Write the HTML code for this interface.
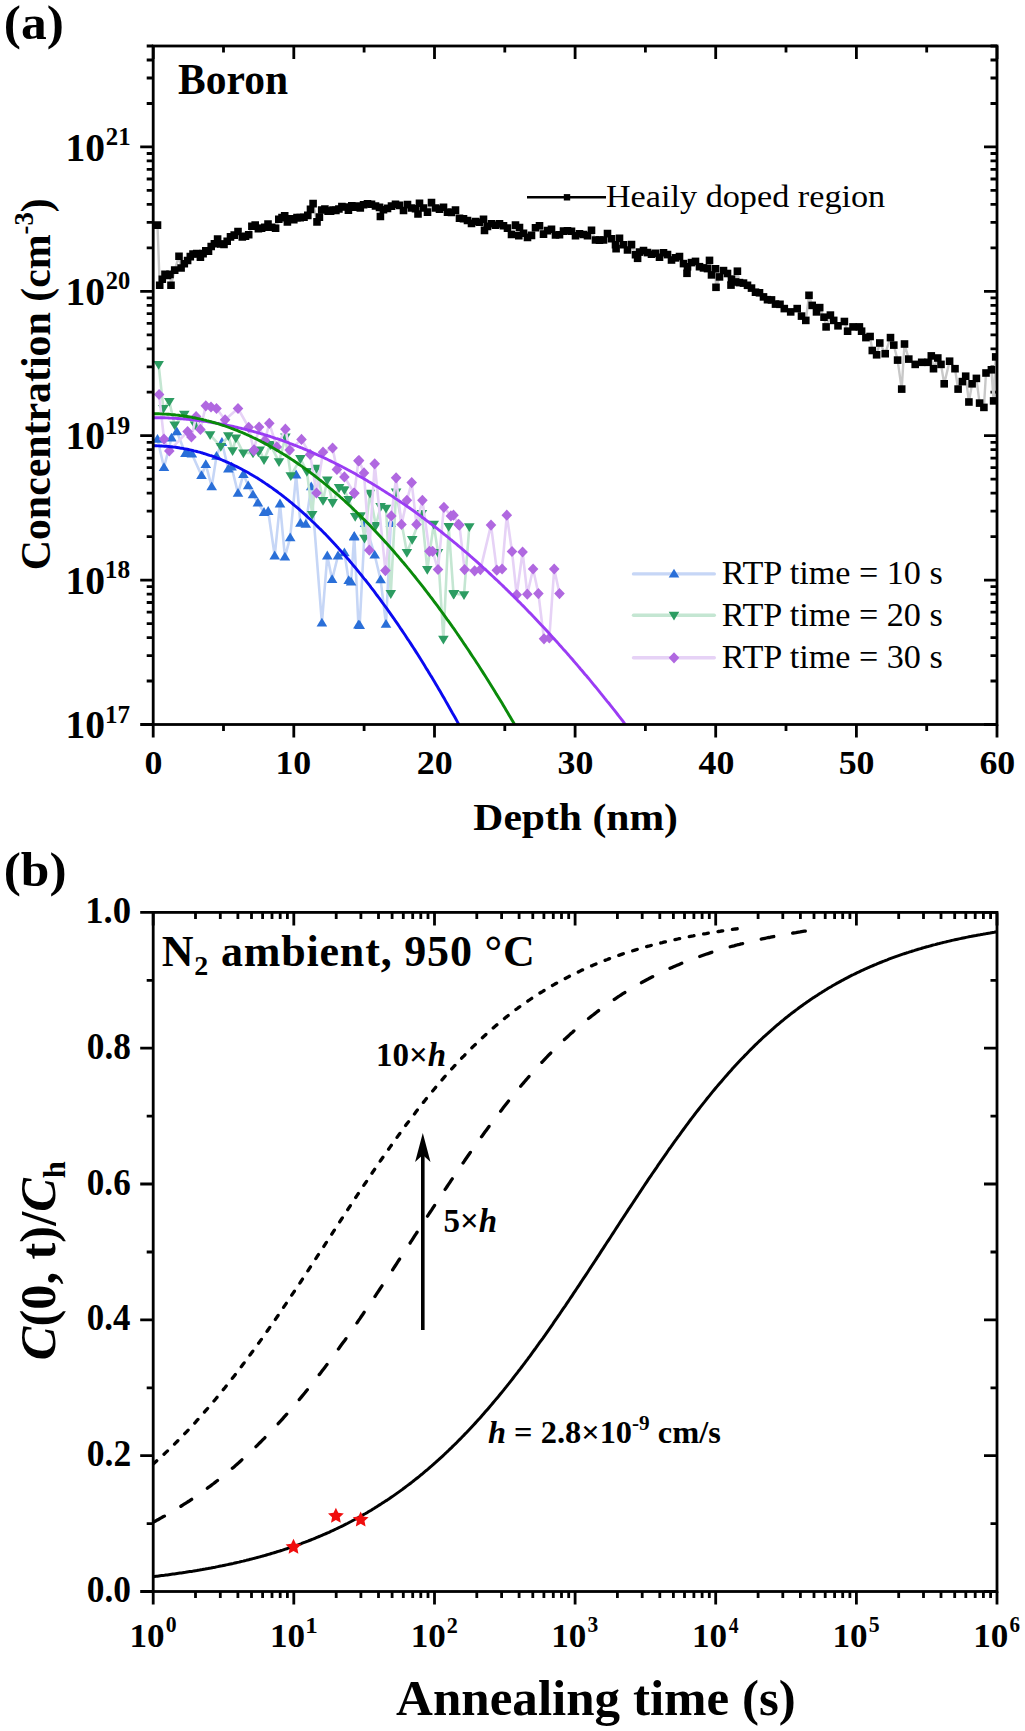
<!DOCTYPE html>
<html><head><meta charset="utf-8"><title>Figure</title>
<style>html,body{margin:0;padding:0;background:#fff;}svg{display:block;font-family:"Liberation Serif",serif;}</style>
</head><body><svg width="1025" height="1731" viewBox="0 0 1025 1731"><path d="M153.2 724.5v13M153.2 46.0v13M293.8 724.5v13M293.8 46.0v13M434.5 724.5v13M434.5 46.0v13M575.1 724.5v13M575.1 46.0v13M715.7 724.5v13M715.7 46.0v13M856.4 724.5v13M856.4 46.0v13M997 724.5v13M997 46.0v13M223.5 724.5v6.5M223.5 46.0v6.5M364.1 724.5v6.5M364.1 46.0v6.5M504.8 724.5v6.5M504.8 46.0v6.5M645.4 724.5v6.5M645.4 46.0v6.5M786 724.5v6.5M786 46.0v6.5M926.7 724.5v6.5M926.7 46.0v6.5M153.2 724.5h-13M997.0 724.5h-13M153.2 681h-6.5M997.0 681h-6.5M153.2 655.6h-6.5M997.0 655.6h-6.5M153.2 637.6h-6.5M997.0 637.6h-6.5M153.2 623.6h-6.5M997.0 623.6h-6.5M153.2 612.1h-6.5M997.0 612.1h-6.5M153.2 602.5h-6.5M997.0 602.5h-6.5M153.2 594.1h-6.5M997.0 594.1h-6.5M153.2 586.7h-6.5M997.0 586.7h-6.5M153.2 580.1h-13M997.0 580.1h-13M153.2 536.6h-6.5M997.0 536.6h-6.5M153.2 511.2h-6.5M997.0 511.2h-6.5M153.2 493.2h-6.5M997.0 493.2h-6.5M153.2 479.2h-6.5M997.0 479.2h-6.5M153.2 467.7h-6.5M997.0 467.7h-6.5M153.2 458.1h-6.5M997.0 458.1h-6.5M153.2 449.7h-6.5M997.0 449.7h-6.5M153.2 442.3h-6.5M997.0 442.3h-6.5M153.2 435.7h-13M997.0 435.7h-13M153.2 392.2h-6.5M997.0 392.2h-6.5M153.2 366.8h-6.5M997.0 366.8h-6.5M153.2 348.8h-6.5M997.0 348.8h-6.5M153.2 334.8h-6.5M997.0 334.8h-6.5M153.2 323.4h-6.5M997.0 323.4h-6.5M153.2 313.7h-6.5M997.0 313.7h-6.5M153.2 305.3h-6.5M997.0 305.3h-6.5M153.2 297.9h-6.5M997.0 297.9h-6.5M153.2 291.3h-13M997.0 291.3h-13M153.2 247.9h-6.5M997.0 247.9h-6.5M153.2 222.4h-6.5M997.0 222.4h-6.5M153.2 204.4h-6.5M997.0 204.4h-6.5M153.2 190.4h-6.5M997.0 190.4h-6.5M153.2 179h-6.5M997.0 179h-6.5M153.2 169.3h-6.5M997.0 169.3h-6.5M153.2 160.9h-6.5M997.0 160.9h-6.5M153.2 153.5h-6.5M997.0 153.5h-6.5M153.2 146.9h-13M997.0 146.9h-13M153.2 103.5h-6.5M997.0 103.5h-6.5M153.2 78h-6.5M997.0 78h-6.5M153.2 60h-6.5M997.0 60h-6.5M153.2 46h-6.5M997.0 46h-6.5" stroke="#000" stroke-width="2.8" fill="none"/>
<defs><clipPath id="ca"><rect x="153.2" y="46.0" width="843.8" height="678.5"/></clipPath><clipPath id="cb"><rect x="153.2" y="912.4" width="843.8" height="679.1"/></clipPath><path id="sq" d="M-3.8 -3.8h7.6v7.6h-7.6z"/><path id="tu" d="M0 -5.2L5.3 3.6H-5.3z"/><path id="td" d="M0 5.2L5.3 -3.6H-5.3z"/><path id="dm" d="M0 -5.6L5.3 0L0 5.6L-5.3 0z"/><path id="st" d="M0.00,-8.30 L2.35,-3.24 L7.89,-2.56 L3.80,1.24 L4.88,6.71 L0.00,4.00 L-4.88,6.71 L-3.80,1.24 L-7.89,-2.56 L-2.35,-3.24z"/></defs>
<g clip-path="url(#ca)">
<path d="M157.5 225.1 L159.7 285.2 L162.3 279.2 L165 274.4 L167.5 275.5 L170 274.4 L171 285.2 L174.7 270.1 L179 256.2 L181.1 268 L184.3 263.8 L187.6 260.5 L190.3 256.6 L193 254 L196.7 253.6 L200.4 257.3 L203.1 253.6 L205.8 250.8 L208.5 251.1 L211.2 246.5 L214.4 243.7 L217.6 239 L220.8 244 L224 244.4 L227.2 241.2 L230.5 236.9 L234.2 235.1 L238 231.5 L242.3 236.9 L245.5 236.2 L248.7 234.7 L251.9 226.2 L255.2 225.1 L258.4 228.6 L261.6 228.3 L264.8 227.3 L268 224 L271.8 227.2 L275.6 228.3 L278.8 219.2 L282 217.6 L284.7 215.9 L287.4 221.9 L290.6 218.8 L293.8 219.7 L297 217.6 L300.2 217.6 L304 217.2 L307.8 215.4 L310.5 209.4 L313.1 203.6 L317 221.9 L319.4 217.1 L321.7 210 L324.9 209.1 L328.1 211.1 L330.6 211.2 L333 210 L335.9 210.4 L338.9 209 L341.9 206.5 L345 207 L348.4 210.2 L351.8 205.8 L354.4 207.1 L357 206 L360.3 208 L363.6 204.7 L367.5 203.9 L371.5 204.2 L375.5 206 L379.5 207.4 L380.4 216.5 L383.5 209.8 L387.5 208.4 L391.5 206.1 L395.5 204.3 L399.5 205.4 L403.5 210.5 L407.5 204.6 L411.5 208 L415.5 208.7 L418 214 L419.5 203.2 L423.5 208 L427.5 212.1 L431.5 202.6 L435.5 208 L439.5 209.1 L443.5 207.3 L447.5 212.2 L451.5 212.4 L455.5 210.1 L459.5 218.2 L463.5 218.7 L467.5 220.5 L471.5 223.4 L475.5 221.5 L479.5 222.2 L483.5 219.3 L484.5 230.4 L487.5 226.4 L491.5 223.8 L495.5 225.3 L499.5 223.9 L503.5 225.8 L507.5 228.1 L511.5 234.5 L515.5 225.1 L518.8 235.8 L519.5 227.5 L523.5 233.2 L527.5 237.4 L531.5 235.4 L535.5 227.8 L539.5 225.7 L543.5 234.1 L547.5 230.6 L551.5 229.2 L555.5 235 L559.5 234.7 L563.5 231.1 L567.5 230.7 L571.5 231.2 L575.5 235.7 L579.5 233.8 L583.5 234.5 L587.5 235.6 L591.5 230.3 L595.5 240 L599.5 240.1 L603.5 240 L607.5 233.6 L611.5 238.8 L615.5 244.7 L616.1 248.6 L619.5 238.3 L623.5 244.8 L627.5 250 L631.5 244.6 L635.5 254.7 L637.6 258.3 L639.5 252.1 L643.5 250.6 L647.5 252.6 L651.5 254.2 L655.5 253.2 L659.5 257.2 L663.5 252.8 L667.5 254.6 L671.5 260 L675.5 257.9 L679.5 256.5 L683.5 263.6 L687 273.3 L687.5 266.8 L691.5 262.6 L695.5 261.4 L699.5 266.7 L703.5 267.9 L707.5 268.6 L709.5 260.4 L711.5 274.9 L715.5 268.8 L716 287.3 L719.5 276.9 L723.5 270.6 L727.5 273.5 L731 285.1 L731.5 279.1 L735.5 282 L737.4 271.2 L739.5 282.6 L743.5 283.1 L747.5 285.3 L751.5 288.1 L755.5 292.2 L759.5 292.8 L763.5 296.9 L767.5 299.7 L771.5 299.9 L775.5 304.1 L780 304.3 L784.3 308.6 L790.7 311.9 L797.2 308.6 L801.5 316.1 L805.8 320.4 L809 295.3 L812.2 305.4 L816.5 311.9 L819.7 307.6 L824 317.2 L826.1 326.9 L830.4 315.1 L833.7 320.4 L838 325.8 L844.4 321.5 L847.6 331.2 L853 326.9 L859.4 326.9 L861.6 331.2 L865.9 337.6 L870.1 336.5 L872.3 350.5 L876.6 354.8 L879.8 343 L885.2 353.7 L890.5 337.6 L893.8 345.1 L897.6 360.1 L901.7 389.1 L904.5 344 L908.8 359.1 L915.2 364.4 L921.7 362.3 L928.1 362.3 L931.3 355.9 L933.5 368.7 L937.8 358 L941 364.4 L944.2 383.8 L949.6 361.2 L955 368.7 L958.1 389.1 L962.4 381.6 L965.7 376.2 L968.9 402 L972.1 383.8 L976.4 378.4 L979.6 403.1 L983.9 407.4 L986 373 L991.4 369.8 L993.6 400.9 L995.7 356.9" stroke="#c8c8c8" stroke-width="2.4" fill="none"/>
<g fill="#000"><use href="#sq" x="157.5" y="225.1"/><use href="#sq" x="159.7" y="285.2"/><use href="#sq" x="162.3" y="279.2"/><use href="#sq" x="165" y="274.4"/><use href="#sq" x="167.5" y="275.5"/><use href="#sq" x="170" y="274.4"/><use href="#sq" x="171" y="285.2"/><use href="#sq" x="174.7" y="270.1"/><use href="#sq" x="179" y="256.2"/><use href="#sq" x="181.1" y="268"/><use href="#sq" x="184.3" y="263.8"/><use href="#sq" x="187.6" y="260.5"/><use href="#sq" x="190.3" y="256.6"/><use href="#sq" x="193" y="254"/><use href="#sq" x="196.7" y="253.6"/><use href="#sq" x="200.4" y="257.3"/><use href="#sq" x="203.1" y="253.6"/><use href="#sq" x="205.8" y="250.8"/><use href="#sq" x="208.5" y="251.1"/><use href="#sq" x="211.2" y="246.5"/><use href="#sq" x="214.4" y="243.7"/><use href="#sq" x="217.6" y="239"/><use href="#sq" x="220.8" y="244"/><use href="#sq" x="224" y="244.4"/><use href="#sq" x="227.2" y="241.2"/><use href="#sq" x="230.5" y="236.9"/><use href="#sq" x="234.2" y="235.1"/><use href="#sq" x="238" y="231.5"/><use href="#sq" x="242.3" y="236.9"/><use href="#sq" x="245.5" y="236.2"/><use href="#sq" x="248.7" y="234.7"/><use href="#sq" x="251.9" y="226.2"/><use href="#sq" x="255.2" y="225.1"/><use href="#sq" x="258.4" y="228.6"/><use href="#sq" x="261.6" y="228.3"/><use href="#sq" x="264.8" y="227.3"/><use href="#sq" x="268" y="224"/><use href="#sq" x="271.8" y="227.2"/><use href="#sq" x="275.6" y="228.3"/><use href="#sq" x="278.8" y="219.2"/><use href="#sq" x="282" y="217.6"/><use href="#sq" x="284.7" y="215.9"/><use href="#sq" x="287.4" y="221.9"/><use href="#sq" x="290.6" y="218.8"/><use href="#sq" x="293.8" y="219.7"/><use href="#sq" x="297" y="217.6"/><use href="#sq" x="300.2" y="217.6"/><use href="#sq" x="304" y="217.2"/><use href="#sq" x="307.8" y="215.4"/><use href="#sq" x="310.5" y="209.4"/><use href="#sq" x="313.1" y="203.6"/><use href="#sq" x="317" y="221.9"/><use href="#sq" x="319.4" y="217.1"/><use href="#sq" x="321.7" y="210"/><use href="#sq" x="324.9" y="209.1"/><use href="#sq" x="328.1" y="211.1"/><use href="#sq" x="330.6" y="211.2"/><use href="#sq" x="333" y="210"/><use href="#sq" x="335.9" y="210.4"/><use href="#sq" x="338.9" y="209"/><use href="#sq" x="341.9" y="206.5"/><use href="#sq" x="345" y="207"/><use href="#sq" x="348.4" y="210.2"/><use href="#sq" x="351.8" y="205.8"/><use href="#sq" x="354.4" y="207.1"/><use href="#sq" x="357" y="206"/><use href="#sq" x="360.3" y="208"/><use href="#sq" x="363.6" y="204.7"/><use href="#sq" x="367.5" y="203.9"/><use href="#sq" x="371.5" y="204.2"/><use href="#sq" x="375.5" y="206"/><use href="#sq" x="379.5" y="207.4"/><use href="#sq" x="380.4" y="216.5"/><use href="#sq" x="383.5" y="209.8"/><use href="#sq" x="387.5" y="208.4"/><use href="#sq" x="391.5" y="206.1"/><use href="#sq" x="395.5" y="204.3"/><use href="#sq" x="399.5" y="205.4"/><use href="#sq" x="403.5" y="210.5"/><use href="#sq" x="407.5" y="204.6"/><use href="#sq" x="411.5" y="208"/><use href="#sq" x="415.5" y="208.7"/><use href="#sq" x="418" y="214"/><use href="#sq" x="419.5" y="203.2"/><use href="#sq" x="423.5" y="208"/><use href="#sq" x="427.5" y="212.1"/><use href="#sq" x="431.5" y="202.6"/><use href="#sq" x="435.5" y="208"/><use href="#sq" x="439.5" y="209.1"/><use href="#sq" x="443.5" y="207.3"/><use href="#sq" x="447.5" y="212.2"/><use href="#sq" x="451.5" y="212.4"/><use href="#sq" x="455.5" y="210.1"/><use href="#sq" x="459.5" y="218.2"/><use href="#sq" x="463.5" y="218.7"/><use href="#sq" x="467.5" y="220.5"/><use href="#sq" x="471.5" y="223.4"/><use href="#sq" x="475.5" y="221.5"/><use href="#sq" x="479.5" y="222.2"/><use href="#sq" x="483.5" y="219.3"/><use href="#sq" x="484.5" y="230.4"/><use href="#sq" x="487.5" y="226.4"/><use href="#sq" x="491.5" y="223.8"/><use href="#sq" x="495.5" y="225.3"/><use href="#sq" x="499.5" y="223.9"/><use href="#sq" x="503.5" y="225.8"/><use href="#sq" x="507.5" y="228.1"/><use href="#sq" x="511.5" y="234.5"/><use href="#sq" x="515.5" y="225.1"/><use href="#sq" x="518.8" y="235.8"/><use href="#sq" x="519.5" y="227.5"/><use href="#sq" x="523.5" y="233.2"/><use href="#sq" x="527.5" y="237.4"/><use href="#sq" x="531.5" y="235.4"/><use href="#sq" x="535.5" y="227.8"/><use href="#sq" x="539.5" y="225.7"/><use href="#sq" x="543.5" y="234.1"/><use href="#sq" x="547.5" y="230.6"/><use href="#sq" x="551.5" y="229.2"/><use href="#sq" x="555.5" y="235"/><use href="#sq" x="559.5" y="234.7"/><use href="#sq" x="563.5" y="231.1"/><use href="#sq" x="567.5" y="230.7"/><use href="#sq" x="571.5" y="231.2"/><use href="#sq" x="575.5" y="235.7"/><use href="#sq" x="579.5" y="233.8"/><use href="#sq" x="583.5" y="234.5"/><use href="#sq" x="587.5" y="235.6"/><use href="#sq" x="591.5" y="230.3"/><use href="#sq" x="595.5" y="240"/><use href="#sq" x="599.5" y="240.1"/><use href="#sq" x="603.5" y="240"/><use href="#sq" x="607.5" y="233.6"/><use href="#sq" x="611.5" y="238.8"/><use href="#sq" x="615.5" y="244.7"/><use href="#sq" x="616.1" y="248.6"/><use href="#sq" x="619.5" y="238.3"/><use href="#sq" x="623.5" y="244.8"/><use href="#sq" x="627.5" y="250"/><use href="#sq" x="631.5" y="244.6"/><use href="#sq" x="635.5" y="254.7"/><use href="#sq" x="637.6" y="258.3"/><use href="#sq" x="639.5" y="252.1"/><use href="#sq" x="643.5" y="250.6"/><use href="#sq" x="647.5" y="252.6"/><use href="#sq" x="651.5" y="254.2"/><use href="#sq" x="655.5" y="253.2"/><use href="#sq" x="659.5" y="257.2"/><use href="#sq" x="663.5" y="252.8"/><use href="#sq" x="667.5" y="254.6"/><use href="#sq" x="671.5" y="260"/><use href="#sq" x="675.5" y="257.9"/><use href="#sq" x="679.5" y="256.5"/><use href="#sq" x="683.5" y="263.6"/><use href="#sq" x="687" y="273.3"/><use href="#sq" x="687.5" y="266.8"/><use href="#sq" x="691.5" y="262.6"/><use href="#sq" x="695.5" y="261.4"/><use href="#sq" x="699.5" y="266.7"/><use href="#sq" x="703.5" y="267.9"/><use href="#sq" x="707.5" y="268.6"/><use href="#sq" x="709.5" y="260.4"/><use href="#sq" x="711.5" y="274.9"/><use href="#sq" x="715.5" y="268.8"/><use href="#sq" x="716" y="287.3"/><use href="#sq" x="719.5" y="276.9"/><use href="#sq" x="723.5" y="270.6"/><use href="#sq" x="727.5" y="273.5"/><use href="#sq" x="731" y="285.1"/><use href="#sq" x="731.5" y="279.1"/><use href="#sq" x="735.5" y="282"/><use href="#sq" x="737.4" y="271.2"/><use href="#sq" x="739.5" y="282.6"/><use href="#sq" x="743.5" y="283.1"/><use href="#sq" x="747.5" y="285.3"/><use href="#sq" x="751.5" y="288.1"/><use href="#sq" x="755.5" y="292.2"/><use href="#sq" x="759.5" y="292.8"/><use href="#sq" x="763.5" y="296.9"/><use href="#sq" x="767.5" y="299.7"/><use href="#sq" x="771.5" y="299.9"/><use href="#sq" x="775.5" y="304.1"/><use href="#sq" x="780" y="304.3"/><use href="#sq" x="784.3" y="308.6"/><use href="#sq" x="790.7" y="311.9"/><use href="#sq" x="797.2" y="308.6"/><use href="#sq" x="801.5" y="316.1"/><use href="#sq" x="805.8" y="320.4"/><use href="#sq" x="809" y="295.3"/><use href="#sq" x="812.2" y="305.4"/><use href="#sq" x="816.5" y="311.9"/><use href="#sq" x="819.7" y="307.6"/><use href="#sq" x="824" y="317.2"/><use href="#sq" x="826.1" y="326.9"/><use href="#sq" x="830.4" y="315.1"/><use href="#sq" x="833.7" y="320.4"/><use href="#sq" x="838" y="325.8"/><use href="#sq" x="844.4" y="321.5"/><use href="#sq" x="847.6" y="331.2"/><use href="#sq" x="853" y="326.9"/><use href="#sq" x="859.4" y="326.9"/><use href="#sq" x="861.6" y="331.2"/><use href="#sq" x="865.9" y="337.6"/><use href="#sq" x="870.1" y="336.5"/><use href="#sq" x="872.3" y="350.5"/><use href="#sq" x="876.6" y="354.8"/><use href="#sq" x="879.8" y="343"/><use href="#sq" x="885.2" y="353.7"/><use href="#sq" x="890.5" y="337.6"/><use href="#sq" x="893.8" y="345.1"/><use href="#sq" x="897.6" y="360.1"/><use href="#sq" x="901.7" y="389.1"/><use href="#sq" x="904.5" y="344"/><use href="#sq" x="908.8" y="359.1"/><use href="#sq" x="915.2" y="364.4"/><use href="#sq" x="921.7" y="362.3"/><use href="#sq" x="928.1" y="362.3"/><use href="#sq" x="931.3" y="355.9"/><use href="#sq" x="933.5" y="368.7"/><use href="#sq" x="937.8" y="358"/><use href="#sq" x="941" y="364.4"/><use href="#sq" x="944.2" y="383.8"/><use href="#sq" x="949.6" y="361.2"/><use href="#sq" x="955" y="368.7"/><use href="#sq" x="958.1" y="389.1"/><use href="#sq" x="962.4" y="381.6"/><use href="#sq" x="965.7" y="376.2"/><use href="#sq" x="968.9" y="402"/><use href="#sq" x="972.1" y="383.8"/><use href="#sq" x="976.4" y="378.4"/><use href="#sq" x="979.6" y="403.1"/><use href="#sq" x="983.9" y="407.4"/><use href="#sq" x="986" y="373"/><use href="#sq" x="991.4" y="369.8"/><use href="#sq" x="993.6" y="400.9"/><use href="#sq" x="995.7" y="356.9"/></g>
<path d="M157.5 439.1 L164 467.5 L171.5 438 L176.8 431.6 L185.4 453.4 L187.6 453 L191.9 454 L201.5 475.4 L205.8 464.5 L211.7 486.7 L216.5 456.2 L221.9 442.3 L228.3 469 L231.6 467 L238 493.1 L243.4 474.3 L248.2 485.6 L253 494.7 L257.9 502.8 L264 512.3 L268.2 511.3 L274.7 555.8 L280 503.8 L284.9 556.9 L290.2 537.6 L296.1 474.8 L300.4 523.1 L305.8 524.1 L311.2 486.6 L321.9 622.9 L327.3 555.8 L332.1 579.4 L338 555.8 L344.4 552.6 L348.7 580.5 L351.1 581.9 L354.1 537 L354.3 536.2 L358.4 625 L359.7 625.3 L365 523.4 L374.7 555 L380.6 579.7 L386 624.2 L390.8 523.4" stroke="#c6d6f6" stroke-width="2.6" fill="none" stroke-linejoin="round"/>
<g fill="#2a6fd8"><use href="#tu" x="157.5" y="439.1"/><use href="#tu" x="164" y="467.5"/><use href="#tu" x="171.5" y="438"/><use href="#tu" x="176.8" y="431.6"/><use href="#tu" x="185.4" y="453.4"/><use href="#tu" x="187.6" y="453"/><use href="#tu" x="191.9" y="454"/><use href="#tu" x="201.5" y="475.4"/><use href="#tu" x="205.8" y="464.5"/><use href="#tu" x="211.7" y="486.7"/><use href="#tu" x="216.5" y="456.2"/><use href="#tu" x="221.9" y="442.3"/><use href="#tu" x="228.3" y="469"/><use href="#tu" x="231.6" y="467"/><use href="#tu" x="238" y="493.1"/><use href="#tu" x="243.4" y="474.3"/><use href="#tu" x="248.2" y="485.6"/><use href="#tu" x="253" y="494.7"/><use href="#tu" x="257.9" y="502.8"/><use href="#tu" x="264" y="512.3"/><use href="#tu" x="268.2" y="511.3"/><use href="#tu" x="274.7" y="555.8"/><use href="#tu" x="280" y="503.8"/><use href="#tu" x="284.9" y="556.9"/><use href="#tu" x="290.2" y="537.6"/><use href="#tu" x="296.1" y="474.8"/><use href="#tu" x="300.4" y="523.1"/><use href="#tu" x="305.8" y="524.1"/><use href="#tu" x="311.2" y="486.6"/><use href="#tu" x="321.9" y="622.9"/><use href="#tu" x="327.3" y="555.8"/><use href="#tu" x="332.1" y="579.4"/><use href="#tu" x="338" y="555.8"/><use href="#tu" x="344.4" y="552.6"/><use href="#tu" x="348.7" y="580.5"/><use href="#tu" x="351.1" y="581.9"/><use href="#tu" x="354.1" y="537"/><use href="#tu" x="354.3" y="536.2"/><use href="#tu" x="358.4" y="625"/><use href="#tu" x="359.7" y="625.3"/><use href="#tu" x="365" y="523.4"/><use href="#tu" x="374.7" y="555"/><use href="#tu" x="380.6" y="579.7"/><use href="#tu" x="386" y="624.2"/><use href="#tu" x="390.8" y="523.4"/></g>
<path d="M158.6 364.5 L163.4 408.5 L169.3 401.5 L174.7 425.1 L184.3 414.4 L195.1 425.1 L210.1 434.8 L220.8 446.6 L228.3 435.9 L232.6 450.9 L235.9 438 L243.4 453 L253 453 L258.4 452 L259.7 450.1 L264 459.8 L270.4 444.7 L279 461.9 L285.4 437.2 L290.8 475.9 L300.4 458.7 L306.9 471.6 L312.2 514.5 L316.5 468.3 L323 500.5 L327.3 480.1 L332.6 502.7 L339.1 487.7 L344.4 489.8 L348.7 499.5 L355.2 516.6 L360.7 515.9 L364.5 538.4 L369.9 493.3 L375.8 525.5 L380.6 506.7 L386 508.3 L390.8 593.7 L396.1 492.2 L406.9 552.6 L412.2 539.5 L421.9 513.7 L427.3 569.5 L433.7 524.4 L438 552.6 L443.4 639.3 L448.7 526.6 L453.5 594.2 L454.1 593.7 L464 594.8 L469.3 526.9" stroke="#c4e6d2" stroke-width="2.6" fill="none" stroke-linejoin="round"/>
<g fill="#2c9c62"><use href="#td" x="158.6" y="364.5"/><use href="#td" x="163.4" y="408.5"/><use href="#td" x="169.3" y="401.5"/><use href="#td" x="174.7" y="425.1"/><use href="#td" x="184.3" y="414.4"/><use href="#td" x="195.1" y="425.1"/><use href="#td" x="210.1" y="434.8"/><use href="#td" x="220.8" y="446.6"/><use href="#td" x="228.3" y="435.9"/><use href="#td" x="232.6" y="450.9"/><use href="#td" x="235.9" y="438"/><use href="#td" x="243.4" y="453"/><use href="#td" x="253" y="453"/><use href="#td" x="258.4" y="452"/><use href="#td" x="259.7" y="450.1"/><use href="#td" x="264" y="459.8"/><use href="#td" x="270.4" y="444.7"/><use href="#td" x="279" y="461.9"/><use href="#td" x="285.4" y="437.2"/><use href="#td" x="290.8" y="475.9"/><use href="#td" x="300.4" y="458.7"/><use href="#td" x="306.9" y="471.6"/><use href="#td" x="312.2" y="514.5"/><use href="#td" x="316.5" y="468.3"/><use href="#td" x="323" y="500.5"/><use href="#td" x="327.3" y="480.1"/><use href="#td" x="332.6" y="502.7"/><use href="#td" x="339.1" y="487.7"/><use href="#td" x="344.4" y="489.8"/><use href="#td" x="348.7" y="499.5"/><use href="#td" x="355.2" y="516.6"/><use href="#td" x="360.7" y="515.9"/><use href="#td" x="364.5" y="538.4"/><use href="#td" x="369.9" y="493.3"/><use href="#td" x="375.8" y="525.5"/><use href="#td" x="380.6" y="506.7"/><use href="#td" x="386" y="508.3"/><use href="#td" x="390.8" y="593.7"/><use href="#td" x="396.1" y="492.2"/><use href="#td" x="406.9" y="552.6"/><use href="#td" x="412.2" y="539.5"/><use href="#td" x="421.9" y="513.7"/><use href="#td" x="427.3" y="569.5"/><use href="#td" x="433.7" y="524.4"/><use href="#td" x="438" y="552.6"/><use href="#td" x="443.4" y="639.3"/><use href="#td" x="448.7" y="526.6"/><use href="#td" x="453.5" y="594.2"/><use href="#td" x="454.1" y="593.7"/><use href="#td" x="464" y="594.8"/><use href="#td" x="469.3" y="526.9"/></g>
<path d="M159.1 394.5 L164 439.1 L169.3 450.9 L187.6 431.6 L191.4 437 L196.1 416.5 L200.4 429.4 L205.8 405.8 L211 407 L216.5 408.5 L225.1 419.8 L238 408.5 L248.7 427.3 L253.8 450.6 L254.1 449.8 L259.1 427 L265 440.4 L269.3 423.3 L276.8 446.9 L285.4 429.2 L289.7 450.1 L301.5 439.4 L310.1 454.4 L316.5 493 L323 452.2 L332.6 448 L336.9 469.4 L344.4 476.9 L354.1 493 L354.3 493.3 L358.4 460.8 L359.1 460.6 L364 472.9 L369.3 550.2 L374.7 463.8 L385.4 570.6 L391.3 515.9 L396.1 477.8 L401.5 524.4 L406.9 500.3 L411.7 482.6 L416.5 524.4 L422.4 500.3 L429.4 551.3 L432.6 551.3 L438 569.5 L443.9 507.3 L450.9 515.9 L453.5 515.2 L458.4 524.4 L459.4 525.1 L464.6 569.6 L474.6 570.8 L480.4 569.6 L491 525.1 L496.8 570.2 L502.1 569 L506.8 515.2 L512 551.5 L516.7 594.8 L522.6 552 L527.3 594.2 L533.1 569 L538.4 593.6 L544 638.8 L549.3 638 L554.2 569 L559.5 593.6" stroke="#e6d2f6" stroke-width="2.6" fill="none" stroke-linejoin="round"/>
<g fill="#b068e0"><use href="#dm" x="159.1" y="394.5"/><use href="#dm" x="164" y="439.1"/><use href="#dm" x="169.3" y="450.9"/><use href="#dm" x="187.6" y="431.6"/><use href="#dm" x="191.4" y="437"/><use href="#dm" x="196.1" y="416.5"/><use href="#dm" x="200.4" y="429.4"/><use href="#dm" x="205.8" y="405.8"/><use href="#dm" x="211" y="407"/><use href="#dm" x="216.5" y="408.5"/><use href="#dm" x="225.1" y="419.8"/><use href="#dm" x="238" y="408.5"/><use href="#dm" x="248.7" y="427.3"/><use href="#dm" x="253.8" y="450.6"/><use href="#dm" x="254.1" y="449.8"/><use href="#dm" x="259.1" y="427"/><use href="#dm" x="265" y="440.4"/><use href="#dm" x="269.3" y="423.3"/><use href="#dm" x="276.8" y="446.9"/><use href="#dm" x="285.4" y="429.2"/><use href="#dm" x="289.7" y="450.1"/><use href="#dm" x="301.5" y="439.4"/><use href="#dm" x="310.1" y="454.4"/><use href="#dm" x="316.5" y="493"/><use href="#dm" x="323" y="452.2"/><use href="#dm" x="332.6" y="448"/><use href="#dm" x="336.9" y="469.4"/><use href="#dm" x="344.4" y="476.9"/><use href="#dm" x="354.1" y="493"/><use href="#dm" x="354.3" y="493.3"/><use href="#dm" x="358.4" y="460.8"/><use href="#dm" x="359.1" y="460.6"/><use href="#dm" x="364" y="472.9"/><use href="#dm" x="369.3" y="550.2"/><use href="#dm" x="374.7" y="463.8"/><use href="#dm" x="385.4" y="570.6"/><use href="#dm" x="391.3" y="515.9"/><use href="#dm" x="396.1" y="477.8"/><use href="#dm" x="401.5" y="524.4"/><use href="#dm" x="406.9" y="500.3"/><use href="#dm" x="411.7" y="482.6"/><use href="#dm" x="416.5" y="524.4"/><use href="#dm" x="422.4" y="500.3"/><use href="#dm" x="429.4" y="551.3"/><use href="#dm" x="432.6" y="551.3"/><use href="#dm" x="438" y="569.5"/><use href="#dm" x="443.9" y="507.3"/><use href="#dm" x="450.9" y="515.9"/><use href="#dm" x="453.5" y="515.2"/><use href="#dm" x="458.4" y="524.4"/><use href="#dm" x="459.4" y="525.1"/><use href="#dm" x="464.6" y="569.6"/><use href="#dm" x="474.6" y="570.8"/><use href="#dm" x="480.4" y="569.6"/><use href="#dm" x="491" y="525.1"/><use href="#dm" x="496.8" y="570.2"/><use href="#dm" x="502.1" y="569"/><use href="#dm" x="506.8" y="515.2"/><use href="#dm" x="512" y="551.5"/><use href="#dm" x="516.7" y="594.8"/><use href="#dm" x="522.6" y="552"/><use href="#dm" x="527.3" y="594.2"/><use href="#dm" x="533.1" y="569"/><use href="#dm" x="538.4" y="593.6"/><use href="#dm" x="544" y="638.8"/><use href="#dm" x="549.3" y="638"/><use href="#dm" x="554.2" y="569"/><use href="#dm" x="559.5" y="593.6"/></g>
<path d="M153.2 445.8 L154.6 445.8 L156 445.8 L157.4 445.9 L158.8 445.9 L160.2 446 L161.6 446 L163 446.1 L164.5 446.2 L165.9 446.3 L167.3 446.4 L168.7 446.5 L170.1 446.7 L171.5 446.8 L172.9 447 L174.3 447.1 L175.7 447.3 L177.1 447.5 L178.5 447.7 L179.9 448 L181.3 448.2 L182.7 448.4 L184.1 448.7 L185.5 448.9 L187 449.2 L188.4 449.5 L189.8 449.8 L191.2 450.1 L192.6 450.4 L194 450.8 L195.4 451.1 L196.8 451.5 L198.2 451.9 L199.6 452.2 L201 452.6 L202.4 453 L203.8 453.5 L205.2 453.9 L206.6 454.3 L208 454.8 L209.5 455.3 L210.9 455.7 L212.3 456.2 L213.7 456.7 L215.1 457.2 L216.5 457.8 L217.9 458.3 L219.3 458.9 L220.7 459.4 L222.1 460 L223.5 460.6 L224.9 461.2 L226.3 461.8 L227.7 462.4 L229.1 463 L230.5 463.7 L232 464.3 L233.4 465 L234.8 465.7 L236.2 466.4 L237.6 467.1 L239 467.8 L240.4 468.5 L241.8 469.2 L243.2 470 L244.6 470.7 L246 471.5 L247.4 472.3 L248.8 473.1 L250.2 473.9 L251.6 474.7 L253 475.6 L254.5 476.4 L255.9 477.3 L257.3 478.1 L258.7 479 L260.1 479.9 L261.5 480.8 L262.9 481.7 L264.3 482.6 L265.7 483.6 L267.1 484.5 L268.5 485.5 L269.9 486.5 L271.3 487.4 L272.7 488.4 L274.1 489.5 L275.6 490.5 L277 491.5 L278.4 492.6 L279.8 493.6 L281.2 494.7 L282.6 495.8 L284 496.8 L285.4 498 L286.8 499.1 L288.2 500.2 L289.6 501.3 L291 502.5 L292.4 503.6 L293.8 504.8 L295.2 506 L296.6 507.2 L298.1 508.4 L299.5 509.6 L300.9 510.9 L302.3 512.1 L303.7 513.4 L305.1 514.6 L306.5 515.9 L307.9 517.2 L309.3 518.5 L310.7 519.8 L312.1 521.2 L313.5 522.5 L314.9 523.8 L316.3 525.2 L317.7 526.6 L319.1 528 L320.6 529.4 L322 530.8 L323.4 532.2 L324.8 533.6 L326.2 535.1 L327.6 536.5 L329 538 L330.4 539.5 L331.8 541 L333.2 542.5 L334.6 544 L336 545.5 L337.4 547.1 L338.8 548.6 L340.2 550.2 L341.6 551.8 L343.1 553.3 L344.5 554.9 L345.9 556.5 L347.3 558.2 L348.7 559.8 L350.1 561.5 L351.5 563.1 L352.9 564.8 L354.3 566.5 L355.7 568.2 L357.1 569.9 L358.5 571.6 L359.9 573.3 L361.3 575 L362.7 576.8 L364.1 578.6 L365.6 580.3 L367 582.1 L368.4 583.9 L369.8 585.7 L371.2 587.6 L372.6 589.4 L374 591.2 L375.4 593.1 L376.8 595 L378.2 596.8 L379.6 598.7 L381 600.6 L382.4 602.6 L383.8 604.5 L385.2 606.4 L386.7 608.4 L388.1 610.4 L389.5 612.3 L390.9 614.3 L392.3 616.3 L393.7 618.3 L395.1 620.4 L396.5 622.4 L397.9 624.4 L399.3 626.5 L400.7 628.6 L402.1 630.6 L403.5 632.7 L404.9 634.8 L406.3 637 L407.7 639.1 L409.2 641.2 L410.6 643.4 L412 645.6 L413.4 647.7 L414.8 649.9 L416.2 652.1 L417.6 654.3 L419 656.6 L420.4 658.8 L421.8 661 L423.2 663.3 L424.6 665.6 L426 667.9 L427.4 670.1 L428.8 672.5 L430.2 674.8 L431.7 677.1 L433.1 679.4 L434.5 681.8 L435.9 684.2 L437.3 686.5 L438.7 688.9 L440.1 691.3 L441.5 693.7 L442.9 696.2 L444.3 698.6 L445.7 701.1 L447.1 703.5 L448.5 706 L449.9 708.5 L451.3 711 L452.7 713.5 L454.2 716 L455.6 718.5 L457 721.1 L458.4 723.6 L459.8 726.2 L461.2 728.8 L462.6 731.4 L464 734 L465.4 736.6 L466.8 739.2" stroke="#0a0af0" stroke-width="2.9" fill="none"/>
<path d="M153.2 417.7 L154.6 417.7 L156 417.7 L157.4 417.7 L158.8 417.7 L160.2 417.7 L161.6 417.8 L163 417.8 L164.5 417.8 L165.9 417.9 L167.3 417.9 L168.7 418 L170.1 418.1 L171.5 418.1 L172.9 418.2 L174.3 418.3 L175.7 418.4 L177.1 418.5 L178.5 418.5 L179.9 418.6 L181.3 418.8 L182.7 418.9 L184.1 419 L185.5 419.1 L187 419.2 L188.4 419.4 L189.8 419.5 L191.2 419.6 L192.6 419.8 L194 420 L195.4 420.1 L196.8 420.3 L198.2 420.5 L199.6 420.6 L201 420.8 L202.4 421 L203.8 421.2 L205.2 421.4 L206.6 421.6 L208 421.8 L209.5 422 L210.9 422.2 L212.3 422.5 L213.7 422.7 L215.1 422.9 L216.5 423.2 L217.9 423.4 L219.3 423.7 L220.7 423.9 L222.1 424.2 L223.5 424.5 L224.9 424.7 L226.3 425 L227.7 425.3 L229.1 425.6 L230.5 425.9 L232 426.2 L233.4 426.5 L234.8 426.8 L236.2 427.1 L237.6 427.5 L239 427.8 L240.4 428.1 L241.8 428.5 L243.2 428.8 L244.6 429.2 L246 429.5 L247.4 429.9 L248.8 430.2 L250.2 430.6 L251.6 431 L253 431.4 L254.5 431.8 L255.9 432.2 L257.3 432.6 L258.7 433 L260.1 433.4 L261.5 433.8 L262.9 434.2 L264.3 434.7 L265.7 435.1 L267.1 435.5 L268.5 436 L269.9 436.4 L271.3 436.9 L272.7 437.3 L274.1 437.8 L275.6 438.3 L277 438.7 L278.4 439.2 L279.8 439.7 L281.2 440.2 L282.6 440.7 L284 441.2 L285.4 441.7 L286.8 442.2 L288.2 442.7 L289.6 443.3 L291 443.8 L292.4 444.3 L293.8 444.9 L295.2 445.4 L296.6 446 L298.1 446.5 L299.5 447.1 L300.9 447.7 L302.3 448.2 L303.7 448.8 L305.1 449.4 L306.5 450 L307.9 450.6 L309.3 451.2 L310.7 451.8 L312.1 452.4 L313.5 453 L314.9 453.7 L316.3 454.3 L317.7 454.9 L319.1 455.6 L320.6 456.2 L322 456.9 L323.4 457.5 L324.8 458.2 L326.2 458.8 L327.6 459.5 L329 460.2 L330.4 460.9 L331.8 461.6 L333.2 462.3 L334.6 463 L336 463.7 L337.4 464.4 L338.8 465.1 L340.2 465.8 L341.6 466.5 L343.1 467.3 L344.5 468 L345.9 468.7 L347.3 469.5 L348.7 470.2 L350.1 471 L351.5 471.8 L352.9 472.5 L354.3 473.3 L355.7 474.1 L357.1 474.9 L358.5 475.7 L359.9 476.5 L361.3 477.3 L362.7 478.1 L364.1 478.9 L365.6 479.7 L367 480.5 L368.4 481.4 L369.8 482.2 L371.2 483 L372.6 483.9 L374 484.7 L375.4 485.6 L376.8 486.5 L378.2 487.3 L379.6 488.2 L381 489.1 L382.4 490 L383.8 490.9 L385.2 491.8 L386.7 492.7 L388.1 493.6 L389.5 494.5 L390.9 495.4 L392.3 496.3 L393.7 497.2 L395.1 498.2 L396.5 499.1 L397.9 500.1 L399.3 501 L400.7 502 L402.1 502.9 L403.5 503.9 L404.9 504.9 L406.3 505.8 L407.7 506.8 L409.2 507.8 L410.6 508.8 L412 509.8 L413.4 510.8 L414.8 511.8 L416.2 512.8 L417.6 513.8 L419 514.9 L420.4 515.9 L421.8 516.9 L423.2 518 L424.6 519 L426 520.1 L427.4 521.1 L428.8 522.2 L430.2 523.3 L431.7 524.4 L433.1 525.4 L434.5 526.5 L435.9 527.6 L437.3 528.7 L438.7 529.8 L440.1 530.9 L441.5 532 L442.9 533.1 L444.3 534.3 L445.7 535.4 L447.1 536.5 L448.5 537.7 L449.9 538.8 L451.3 540 L452.7 541.1 L454.2 542.3 L455.6 543.5 L457 544.6 L458.4 545.8 L459.8 547 L461.2 548.2 L462.6 549.4 L464 550.6 L465.4 551.8 L466.8 553 L468.2 554.2 L469.6 555.4 L471 556.7 L472.4 557.9 L473.8 559.1 L475.3 560.4 L476.7 561.6 L478.1 562.9 L479.5 564.1 L480.9 565.4 L482.3 566.7 L483.7 568 L485.1 569.2 L486.5 570.5 L487.9 571.8 L489.3 573.1 L490.7 574.4 L492.1 575.7 L493.5 577 L494.9 578.4 L496.3 579.7 L497.8 581 L499.2 582.4 L500.6 583.7 L502 585 L503.4 586.4 L504.8 587.8 L506.2 589.1 L507.6 590.5 L509 591.9 L510.4 593.2 L511.8 594.6 L513.2 596 L514.6 597.4 L516 598.8 L517.4 600.2 L518.8 601.6 L520.3 603 L521.7 604.5 L523.1 605.9 L524.5 607.3 L525.9 608.8 L527.3 610.2 L528.7 611.7 L530.1 613.1 L531.5 614.6 L532.9 616.1 L534.3 617.5 L535.7 619 L537.1 620.5 L538.5 622 L539.9 623.5 L541.3 625 L542.8 626.5 L544.2 628 L545.6 629.5 L547 631 L548.4 632.5 L549.8 634.1 L551.2 635.6 L552.6 637.2 L554 638.7 L555.4 640.3 L556.8 641.8 L558.2 643.4 L559.6 645 L561 646.5 L562.4 648.1 L563.8 649.7 L565.3 651.3 L566.7 652.9 L568.1 654.5 L569.5 656.1 L570.9 657.7 L572.3 659.3 L573.7 661 L575.1 662.6 L576.5 664.2 L577.9 665.9 L579.3 667.5 L580.7 669.2 L582.1 670.8 L583.5 672.5 L584.9 674.2 L586.4 675.8 L587.8 677.5 L589.2 679.2 L590.6 680.9 L592 682.6 L593.4 684.3 L594.8 686 L596.2 687.7 L597.6 689.4 L599 691.1 L600.4 692.9 L601.8 694.6 L603.2 696.3 L604.6 698.1 L606 699.8 L607.4 701.6 L608.9 703.3 L610.3 705.1 L611.7 706.9 L613.1 708.7 L614.5 710.4 L615.9 712.2 L617.3 714 L618.7 715.8 L620.1 717.6 L621.5 719.4 L622.9 721.2 L624.3 723.1 L625.7 724.9 L627.1 726.7 L628.5 728.6 L629.9 730.4 L631.4 732.3 L632.8 734.1 L634.2 736 L635.6 737.8 L637 739.7" stroke="#9a3cf4" stroke-width="2.9" fill="none"/>
<path d="M153.2 413.8 L154.6 413.8 L156 413.8 L157.4 413.8 L158.8 413.8 L160.2 413.9 L161.6 413.9 L163 414 L164.5 414.1 L165.9 414.1 L167.3 414.2 L168.7 414.3 L170.1 414.4 L171.5 414.6 L172.9 414.7 L174.3 414.8 L175.7 415 L177.1 415.1 L178.5 415.3 L179.9 415.5 L181.3 415.6 L182.7 415.8 L184.1 416 L185.5 416.3 L187 416.5 L188.4 416.7 L189.8 416.9 L191.2 417.2 L192.6 417.5 L194 417.7 L195.4 418 L196.8 418.3 L198.2 418.6 L199.6 418.9 L201 419.2 L202.4 419.5 L203.8 419.9 L205.2 420.2 L206.6 420.6 L208 420.9 L209.5 421.3 L210.9 421.7 L212.3 422.1 L213.7 422.5 L215.1 422.9 L216.5 423.3 L217.9 423.7 L219.3 424.2 L220.7 424.6 L222.1 425.1 L223.5 425.5 L224.9 426 L226.3 426.5 L227.7 427 L229.1 427.5 L230.5 428 L232 428.5 L233.4 429.1 L234.8 429.6 L236.2 430.1 L237.6 430.7 L239 431.3 L240.4 431.9 L241.8 432.4 L243.2 433 L244.6 433.6 L246 434.3 L247.4 434.9 L248.8 435.5 L250.2 436.2 L251.6 436.8 L253 437.5 L254.5 438.2 L255.9 438.8 L257.3 439.5 L258.7 440.2 L260.1 440.9 L261.5 441.7 L262.9 442.4 L264.3 443.1 L265.7 443.9 L267.1 444.6 L268.5 445.4 L269.9 446.2 L271.3 447 L272.7 447.8 L274.1 448.6 L275.6 449.4 L277 450.2 L278.4 451 L279.8 451.9 L281.2 452.7 L282.6 453.6 L284 454.5 L285.4 455.3 L286.8 456.2 L288.2 457.1 L289.6 458 L291 459 L292.4 459.9 L293.8 460.8 L295.2 461.8 L296.6 462.7 L298.1 463.7 L299.5 464.7 L300.9 465.6 L302.3 466.6 L303.7 467.6 L305.1 468.6 L306.5 469.7 L307.9 470.7 L309.3 471.7 L310.7 472.8 L312.1 473.8 L313.5 474.9 L314.9 476 L316.3 477.1 L317.7 478.2 L319.1 479.3 L320.6 480.4 L322 481.5 L323.4 482.7 L324.8 483.8 L326.2 484.9 L327.6 486.1 L329 487.3 L330.4 488.5 L331.8 489.7 L333.2 490.9 L334.6 492.1 L336 493.3 L337.4 494.5 L338.8 495.7 L340.2 497 L341.6 498.2 L343.1 499.5 L344.5 500.8 L345.9 502.1 L347.3 503.4 L348.7 504.7 L350.1 506 L351.5 507.3 L352.9 508.6 L354.3 510 L355.7 511.3 L357.1 512.7 L358.5 514.1 L359.9 515.4 L361.3 516.8 L362.7 518.2 L364.1 519.6 L365.6 521 L367 522.5 L368.4 523.9 L369.8 525.3 L371.2 526.8 L372.6 528.3 L374 529.7 L375.4 531.2 L376.8 532.7 L378.2 534.2 L379.6 535.7 L381 537.2 L382.4 538.8 L383.8 540.3 L385.2 541.9 L386.7 543.4 L388.1 545 L389.5 546.6 L390.9 548.1 L392.3 549.7 L393.7 551.3 L395.1 553 L396.5 554.6 L397.9 556.2 L399.3 557.9 L400.7 559.5 L402.1 561.2 L403.5 562.8 L404.9 564.5 L406.3 566.2 L407.7 567.9 L409.2 569.6 L410.6 571.3 L412 573.1 L413.4 574.8 L414.8 576.5 L416.2 578.3 L417.6 580.1 L419 581.8 L420.4 583.6 L421.8 585.4 L423.2 587.2 L424.6 589 L426 590.8 L427.4 592.7 L428.8 594.5 L430.2 596.4 L431.7 598.2 L433.1 600.1 L434.5 602 L435.9 603.8 L437.3 605.7 L438.7 607.6 L440.1 609.6 L441.5 611.5 L442.9 613.4 L444.3 615.4 L445.7 617.3 L447.1 619.3 L448.5 621.2 L449.9 623.2 L451.3 625.2 L452.7 627.2 L454.2 629.2 L455.6 631.2 L457 633.3 L458.4 635.3 L459.8 637.4 L461.2 639.4 L462.6 641.5 L464 643.6 L465.4 645.6 L466.8 647.7 L468.2 649.8 L469.6 651.9 L471 654.1 L472.4 656.2 L473.8 658.3 L475.3 660.5 L476.7 662.7 L478.1 664.8 L479.5 667 L480.9 669.2 L482.3 671.4 L483.7 673.6 L485.1 675.8 L486.5 678 L487.9 680.3 L489.3 682.5 L490.7 684.8 L492.1 687 L493.5 689.3 L494.9 691.6 L496.3 693.9 L497.8 696.2 L499.2 698.5 L500.6 700.8 L502 703.1 L503.4 705.5 L504.8 707.8 L506.2 710.2 L507.6 712.5 L509 714.9 L510.4 717.3 L511.8 719.7 L513.2 722.1 L514.6 724.5 L516 726.9 L517.4 729.4 L518.8 731.8 L520.3 734.3 L521.7 736.7 L523.1 739.2" stroke="#0a8a0a" stroke-width="2.9" fill="none"/>
</g>
<rect x="153.2" y="46.0" width="843.8" height="678.5" fill="none" stroke="#000" stroke-width="2.8"/>
<path d="M153.2 1591.5v13M153.2 912.4v13M195.5 1591.5v6.5M195.5 912.4v6.5M220.3 1591.5v6.5M220.3 912.4v6.5M237.9 1591.5v6.5M237.9 912.4v6.5M251.5 1591.5v6.5M251.5 912.4v6.5M262.6 1591.5v6.5M262.6 912.4v6.5M272 1591.5v6.5M272 912.4v6.5M280.2 1591.5v6.5M280.2 912.4v6.5M287.4 1591.5v6.5M287.4 912.4v6.5M293.8 1591.5v13M293.8 912.4v13M336.2 1591.5v6.5M336.2 912.4v6.5M360.9 1591.5v6.5M360.9 912.4v6.5M378.5 1591.5v6.5M378.5 912.4v6.5M392.1 1591.5v6.5M392.1 912.4v6.5M403.3 1591.5v6.5M403.3 912.4v6.5M412.7 1591.5v6.5M412.7 912.4v6.5M420.8 1591.5v6.5M420.8 912.4v6.5M428 1591.5v6.5M428 912.4v6.5M434.5 1591.5v13M434.5 912.4v13M476.8 1591.5v6.5M476.8 912.4v6.5M501.6 1591.5v6.5M501.6 912.4v6.5M519.1 1591.5v6.5M519.1 912.4v6.5M532.8 1591.5v6.5M532.8 912.4v6.5M543.9 1591.5v6.5M543.9 912.4v6.5M553.3 1591.5v6.5M553.3 912.4v6.5M561.5 1591.5v6.5M561.5 912.4v6.5M568.7 1591.5v6.5M568.7 912.4v6.5M575.1 1591.5v13M575.1 912.4v13M617.4 1591.5v6.5M617.4 912.4v6.5M642.2 1591.5v6.5M642.2 912.4v6.5M659.8 1591.5v6.5M659.8 912.4v6.5M673.4 1591.5v6.5M673.4 912.4v6.5M684.5 1591.5v6.5M684.5 912.4v6.5M693.9 1591.5v6.5M693.9 912.4v6.5M702.1 1591.5v6.5M702.1 912.4v6.5M709.3 1591.5v6.5M709.3 912.4v6.5M715.7 1591.5v13M715.7 912.4v13M758.1 1591.5v6.5M758.1 912.4v6.5M782.8 1591.5v6.5M782.8 912.4v6.5M800.4 1591.5v6.5M800.4 912.4v6.5M814 1591.5v6.5M814 912.4v6.5M825.2 1591.5v6.5M825.2 912.4v6.5M834.6 1591.5v6.5M834.6 912.4v6.5M842.7 1591.5v6.5M842.7 912.4v6.5M849.9 1591.5v6.5M849.9 912.4v6.5M856.4 1591.5v13M856.4 912.4v13M898.7 1591.5v6.5M898.7 912.4v6.5M923.5 1591.5v6.5M923.5 912.4v6.5M941 1591.5v6.5M941 912.4v6.5M954.7 1591.5v6.5M954.7 912.4v6.5M965.8 1591.5v6.5M965.8 912.4v6.5M975.2 1591.5v6.5M975.2 912.4v6.5M983.4 1591.5v6.5M983.4 912.4v6.5M990.6 1591.5v6.5M990.6 912.4v6.5M997 1591.5v13M997 912.4v13M153.2 1591.5h-13M997.0 1591.5h-13M153.2 1523.6h-6.5M997.0 1523.6h-6.5M153.2 1455.7h-13M997.0 1455.7h-13M153.2 1387.8h-6.5M997.0 1387.8h-6.5M153.2 1319.9h-13M997.0 1319.9h-13M153.2 1252h-6.5M997.0 1252h-6.5M153.2 1184h-13M997.0 1184h-13M153.2 1116.1h-6.5M997.0 1116.1h-6.5M153.2 1048.2h-13M997.0 1048.2h-13M153.2 980.3h-6.5M997.0 980.3h-6.5M153.2 912.4h-13M997.0 912.4h-13" stroke="#000" stroke-width="2.8" fill="none"/>
<g clip-path="url(#cb)">
<path d="M153.2 1576.7 L154.6 1576.5 L156 1576.3 L157.4 1576.2 L158.8 1576 L160.2 1575.8 L161.6 1575.6 L163 1575.4 L164.5 1575.3 L165.9 1575.1 L167.3 1574.9 L168.7 1574.7 L170.1 1574.5 L171.5 1574.3 L172.9 1574.1 L174.3 1573.9 L175.7 1573.7 L177.1 1573.5 L178.5 1573.3 L179.9 1573.1 L181.3 1572.9 L182.7 1572.7 L184.1 1572.5 L185.5 1572.3 L187 1572 L188.4 1571.8 L189.8 1571.6 L191.2 1571.4 L192.6 1571.2 L194 1570.9 L195.4 1570.7 L196.8 1570.5 L198.2 1570.2 L199.6 1570 L201 1569.7 L202.4 1569.5 L203.8 1569.2 L205.2 1569 L206.6 1568.7 L208 1568.5 L209.5 1568.2 L210.9 1568 L212.3 1567.7 L213.7 1567.4 L215.1 1567.2 L216.5 1566.9 L217.9 1566.6 L219.3 1566.3 L220.7 1566 L222.1 1565.8 L223.5 1565.5 L224.9 1565.2 L226.3 1564.9 L227.7 1564.6 L229.1 1564.3 L230.5 1564 L232 1563.7 L233.4 1563.4 L234.8 1563 L236.2 1562.7 L237.6 1562.4 L239 1562.1 L240.4 1561.7 L241.8 1561.4 L243.2 1561.1 L244.6 1560.7 L246 1560.4 L247.4 1560 L248.8 1559.7 L250.2 1559.3 L251.6 1559 L253 1558.6 L254.5 1558.3 L255.9 1557.9 L257.3 1557.5 L258.7 1557.1 L260.1 1556.8 L261.5 1556.4 L262.9 1556 L264.3 1555.6 L265.7 1555.2 L267.1 1554.8 L268.5 1554.4 L269.9 1554 L271.3 1553.5 L272.7 1553.1 L274.1 1552.7 L275.6 1552.3 L277 1551.8 L278.4 1551.4 L279.8 1551 L281.2 1550.5 L282.6 1550.1 L284 1549.6 L285.4 1549.1 L286.8 1548.7 L288.2 1548.2 L289.6 1547.7 L291 1547.3 L292.4 1546.8 L293.8 1546.3 L295.2 1545.8 L296.6 1545.3 L298.1 1544.8 L299.5 1544.3 L300.9 1543.8 L302.3 1543.2 L303.7 1542.7 L305.1 1542.2 L306.5 1541.6 L307.9 1541.1 L309.3 1540.5 L310.7 1540 L312.1 1539.4 L313.5 1538.9 L314.9 1538.3 L316.3 1537.7 L317.7 1537.1 L319.1 1536.5 L320.6 1535.9 L322 1535.3 L323.4 1534.7 L324.8 1534.1 L326.2 1533.5 L327.6 1532.9 L329 1532.3 L330.4 1531.6 L331.8 1531 L333.2 1530.3 L334.6 1529.7 L336 1529 L337.4 1528.3 L338.8 1527.7 L340.2 1527 L341.6 1526.3 L343.1 1525.6 L344.5 1524.9 L345.9 1524.2 L347.3 1523.5 L348.7 1522.7 L350.1 1522 L351.5 1521.3 L352.9 1520.5 L354.3 1519.8 L355.7 1519 L357.1 1518.2 L358.5 1517.5 L359.9 1516.7 L361.3 1515.9 L362.7 1515.1 L364.1 1514.3 L365.6 1513.5 L367 1512.7 L368.4 1511.8 L369.8 1511 L371.2 1510.2 L372.6 1509.3 L374 1508.5 L375.4 1507.6 L376.8 1506.7 L378.2 1505.8 L379.6 1504.9 L381 1504.1 L382.4 1503.1 L383.8 1502.2 L385.2 1501.3 L386.7 1500.4 L388.1 1499.4 L389.5 1498.5 L390.9 1497.5 L392.3 1496.6 L393.7 1495.6 L395.1 1494.6 L396.5 1493.6 L397.9 1492.6 L399.3 1491.6 L400.7 1490.6 L402.1 1489.6 L403.5 1488.5 L404.9 1487.5 L406.3 1486.4 L407.7 1485.4 L409.2 1484.3 L410.6 1483.2 L412 1482.1 L413.4 1481 L414.8 1479.9 L416.2 1478.8 L417.6 1477.7 L419 1476.6 L420.4 1475.4 L421.8 1474.3 L423.2 1473.1 L424.6 1471.9 L426 1470.7 L427.4 1469.6 L428.8 1468.4 L430.2 1467.1 L431.7 1465.9 L433.1 1464.7 L434.5 1463.4 L435.9 1462.2 L437.3 1460.9 L438.7 1459.7 L440.1 1458.4 L441.5 1457.1 L442.9 1455.8 L444.3 1454.5 L445.7 1453.2 L447.1 1451.8 L448.5 1450.5 L449.9 1449.1 L451.3 1447.8 L452.7 1446.4 L454.2 1445 L455.6 1443.7 L457 1442.3 L458.4 1440.8 L459.8 1439.4 L461.2 1438 L462.6 1436.5 L464 1435.1 L465.4 1433.6 L466.8 1432.2 L468.2 1430.7 L469.6 1429.2 L471 1427.7 L472.4 1426.2 L473.8 1424.7 L475.3 1423.1 L476.7 1421.6 L478.1 1420 L479.5 1418.5 L480.9 1416.9 L482.3 1415.3 L483.7 1413.7 L485.1 1412.1 L486.5 1410.5 L487.9 1408.9 L489.3 1407.3 L490.7 1405.6 L492.1 1404 L493.5 1402.3 L494.9 1400.6 L496.3 1398.9 L497.8 1397.3 L499.2 1395.5 L500.6 1393.8 L502 1392.1 L503.4 1390.4 L504.8 1388.6 L506.2 1386.9 L507.6 1385.1 L509 1383.4 L510.4 1381.6 L511.8 1379.8 L513.2 1378 L514.6 1376.2 L516 1374.4 L517.4 1372.6 L518.8 1370.7 L520.3 1368.9 L521.7 1367 L523.1 1365.2 L524.5 1363.3 L525.9 1361.4 L527.3 1359.6 L528.7 1357.7 L530.1 1355.8 L531.5 1353.8 L532.9 1351.9 L534.3 1350 L535.7 1348.1 L537.1 1346.1 L538.5 1344.2 L539.9 1342.2 L541.3 1340.3 L542.8 1338.3 L544.2 1336.3 L545.6 1334.3 L547 1332.3 L548.4 1330.3 L549.8 1328.3 L551.2 1326.3 L552.6 1324.3 L554 1322.2 L555.4 1320.2 L556.8 1318.2 L558.2 1316.1 L559.6 1314.1 L561 1312 L562.4 1309.9 L563.8 1307.9 L565.3 1305.8 L566.7 1303.7 L568.1 1301.6 L569.5 1299.5 L570.9 1297.4 L572.3 1295.3 L573.7 1293.2 L575.1 1291.1 L576.5 1289 L577.9 1286.9 L579.3 1284.8 L580.7 1282.7 L582.1 1280.5 L583.5 1278.4 L584.9 1276.3 L586.4 1274.1 L587.8 1272 L589.2 1269.8 L590.6 1267.7 L592 1265.5 L593.4 1263.4 L594.8 1261.2 L596.2 1259.1 L597.6 1256.9 L599 1254.8 L600.4 1252.6 L601.8 1250.4 L603.2 1248.3 L604.6 1246.1 L606 1244 L607.4 1241.8 L608.9 1239.6 L610.3 1237.5 L611.7 1235.3 L613.1 1233.1 L614.5 1231 L615.9 1228.8 L617.3 1226.7 L618.7 1224.5 L620.1 1222.3 L621.5 1220.2 L622.9 1218 L624.3 1215.9 L625.7 1213.7 L627.1 1211.6 L628.5 1209.4 L629.9 1207.3 L631.4 1205.1 L632.8 1203 L634.2 1200.9 L635.6 1198.7 L637 1196.6 L638.4 1194.5 L639.8 1192.4 L641.2 1190.2 L642.6 1188.1 L644 1186 L645.4 1183.9 L646.8 1181.8 L648.2 1179.7 L649.6 1177.6 L651 1175.6 L652.4 1173.5 L653.9 1171.4 L655.3 1169.3 L656.7 1167.3 L658.1 1165.2 L659.5 1163.2 L660.9 1161.1 L662.3 1159.1 L663.7 1157.1 L665.1 1155.1 L666.5 1153.1 L667.9 1151 L669.3 1149 L670.7 1147.1 L672.1 1145.1 L673.5 1143.1 L674.9 1141.1 L676.4 1139.2 L677.8 1137.2 L679.2 1135.3 L680.6 1133.3 L682 1131.4 L683.4 1129.5 L684.8 1127.6 L686.2 1125.7 L687.6 1123.8 L689 1121.9 L690.4 1120 L691.8 1118.2 L693.2 1116.3 L694.6 1114.5 L696 1112.7 L697.5 1110.8 L698.9 1109 L700.3 1107.2 L701.7 1105.4 L703.1 1103.6 L704.5 1101.9 L705.9 1100.1 L707.3 1098.3 L708.7 1096.6 L710.1 1094.9 L711.5 1093.1 L712.9 1091.4 L714.3 1089.7 L715.7 1088 L717.1 1086.4 L718.5 1084.7 L720 1083 L721.4 1081.4 L722.8 1079.8 L724.2 1078.1 L725.6 1076.5 L727 1074.9 L728.4 1073.3 L729.8 1071.7 L731.2 1070.2 L732.6 1068.6 L734 1067.1 L735.4 1065.5 L736.8 1064 L738.2 1062.5 L739.6 1061 L741 1059.5 L742.5 1058 L743.9 1056.6 L745.3 1055.1 L746.7 1053.7 L748.1 1052.2 L749.5 1050.8 L750.9 1049.4 L752.3 1048 L753.7 1046.6 L755.1 1045.2 L756.5 1043.9 L757.9 1042.5 L759.3 1041.2 L760.7 1039.9 L762.1 1038.5 L763.5 1037.2 L765 1035.9 L766.4 1034.6 L767.8 1033.4 L769.2 1032.1 L770.6 1030.8 L772 1029.6 L773.4 1028.4 L774.8 1027.1 L776.2 1025.9 L777.6 1024.7 L779 1023.6 L780.4 1022.4 L781.8 1021.2 L783.2 1020.1 L784.6 1018.9 L786 1017.8 L787.5 1016.6 L788.9 1015.5 L790.3 1014.4 L791.7 1013.3 L793.1 1012.3 L794.5 1011.2 L795.9 1010.1 L797.3 1009.1 L798.7 1008 L800.1 1007 L801.5 1006 L802.9 1005 L804.3 1003.9 L805.7 1003 L807.1 1002 L808.6 1001 L810 1000 L811.4 999.1 L812.8 998.1 L814.2 997.2 L815.6 996.3 L817 995.4 L818.4 994.4 L819.8 993.5 L821.2 992.7 L822.6 991.8 L824 990.9 L825.4 990 L826.8 989.2 L828.2 988.3 L829.6 987.5 L831.1 986.7 L832.5 985.8 L833.9 985 L835.3 984.2 L836.7 983.4 L838.1 982.7 L839.5 981.9 L840.9 981.1 L842.3 980.3 L843.7 979.6 L845.1 978.8 L846.5 978.1 L847.9 977.4 L849.3 976.6 L850.7 975.9 L852.1 975.2 L853.6 974.5 L855 973.8 L856.4 973.1 L857.8 972.5 L859.2 971.8 L860.6 971.1 L862 970.5 L863.4 969.8 L864.8 969.2 L866.2 968.5 L867.6 967.9 L869 967.3 L870.4 966.7 L871.8 966.1 L873.2 965.5 L874.6 964.9 L876.1 964.3 L877.5 963.7 L878.9 963.1 L880.3 962.5 L881.7 962 L883.1 961.4 L884.5 960.9 L885.9 960.3 L887.3 959.8 L888.7 959.2 L890.1 958.7 L891.5 958.2 L892.9 957.7 L894.3 957.2 L895.7 956.7 L897.2 956.2 L898.6 955.7 L900 955.2 L901.4 954.7 L902.8 954.2 L904.2 953.7 L905.6 953.3 L907 952.8 L908.4 952.4 L909.8 951.9 L911.2 951.5 L912.6 951 L914 950.6 L915.4 950.1 L916.8 949.7 L918.2 949.3 L919.7 948.9 L921.1 948.5 L922.5 948 L923.9 947.6 L925.3 947.2 L926.7 946.8 L928.1 946.5 L929.5 946.1 L930.9 945.7 L932.3 945.3 L933.7 944.9 L935.1 944.6 L936.5 944.2 L937.9 943.8 L939.3 943.5 L940.7 943.1 L942.2 942.8 L943.6 942.4 L945 942.1 L946.4 941.8 L947.8 941.4 L949.2 941.1 L950.6 940.8 L952 940.4 L953.4 940.1 L954.8 939.8 L956.2 939.5 L957.6 939.2 L959 938.9 L960.4 938.6 L961.8 938.3 L963.2 938 L964.7 937.7 L966.1 937.4 L967.5 937.1 L968.9 936.8 L970.3 936.6 L971.7 936.3 L973.1 936 L974.5 935.7 L975.9 935.5 L977.3 935.2 L978.7 934.9 L980.1 934.7 L981.5 934.4 L982.9 934.2 L984.3 933.9 L985.7 933.7 L987.2 933.4 L988.6 933.2 L990 933 L991.4 932.7 L992.8 932.5 L994.2 932.3 L995.6 932 L997 931.8" stroke="#000" stroke-width="3.0" fill="none"/>
<path d="M153.2 1522.2 L154.6 1521.4 L156 1520.7 L157.4 1519.9 L158.8 1519.2 L160.2 1518.4 L161.6 1517.6 L163 1516.8 L164.5 1516.1 L165.9 1515.3 L167.3 1514.5 L168.7 1513.7 L170.1 1512.8 L171.5 1512 L172.9 1511.2 L174.3 1510.3 L175.7 1509.5 L177.1 1508.6 L178.5 1507.8 L179.9 1506.9 L181.3 1506 L182.7 1505.1 L184.1 1504.2 L185.5 1503.3 L187 1502.4 L188.4 1501.5 L189.8 1500.6 L191.2 1499.6 L192.6 1498.7 L194 1497.7 L195.4 1496.8 L196.8 1495.8 L198.2 1494.8 L199.6 1493.8 L201 1492.8 L202.4 1491.8 L203.8 1490.8 L205.2 1489.8 L206.6 1488.8 L208 1487.7 L209.5 1486.7 L210.9 1485.6 L212.3 1484.5 L213.7 1483.5 L215.1 1482.4 L216.5 1481.3 L217.9 1480.2 L219.3 1479.1 L220.7 1477.9 L222.1 1476.8 L223.5 1475.7 L224.9 1474.5 L226.3 1473.3 L227.7 1472.2 L229.1 1471 L230.5 1469.8 L232 1468.6 L233.4 1467.4 L234.8 1466.2 L236.2 1464.9 L237.6 1463.7 L239 1462.5 L240.4 1461.2 L241.8 1459.9 L243.2 1458.7 L244.6 1457.4 L246 1456.1 L247.4 1454.8 L248.8 1453.4 L250.2 1452.1 L251.6 1450.8 L253 1449.4 L254.5 1448.1 L255.9 1446.7 L257.3 1445.3 L258.7 1443.9 L260.1 1442.5 L261.5 1441.1 L262.9 1439.7 L264.3 1438.3 L265.7 1436.8 L267.1 1435.4 L268.5 1433.9 L269.9 1432.5 L271.3 1431 L272.7 1429.5 L274.1 1428 L275.6 1426.5 L277 1425 L278.4 1423.4 L279.8 1421.9 L281.2 1420.4 L282.6 1418.8 L284 1417.2 L285.4 1415.6 L286.8 1414.1 L288.2 1412.5 L289.6 1410.8 L291 1409.2 L292.4 1407.6 L293.8 1406 L295.2 1404.3 L296.6 1402.6 L298.1 1401 L299.5 1399.3 L300.9 1397.6 L302.3 1395.9 L303.7 1394.2 L305.1 1392.5 L306.5 1390.7 L307.9 1389 L309.3 1387.3 L310.7 1385.5 L312.1 1383.7 L313.5 1382 L314.9 1380.2 L316.3 1378.4 L317.7 1376.6 L319.1 1374.8 L320.6 1372.9 L322 1371.1 L323.4 1369.3 L324.8 1367.4 L326.2 1365.6 L327.6 1363.7 L329 1361.8 L330.4 1359.9 L331.8 1358 L333.2 1356.1 L334.6 1354.2 L336 1352.3 L337.4 1350.4 L338.8 1348.5 L340.2 1346.5 L341.6 1344.6 L343.1 1342.6 L344.5 1340.7 L345.9 1338.7 L347.3 1336.7 L348.7 1334.7 L350.1 1332.7 L351.5 1330.7 L352.9 1328.7 L354.3 1326.7 L355.7 1324.7 L357.1 1322.7 L358.5 1320.6 L359.9 1318.6 L361.3 1316.5 L362.7 1314.5 L364.1 1312.4 L365.6 1310.4 L367 1308.3 L368.4 1306.2 L369.8 1304.1 L371.2 1302.1 L372.6 1300 L374 1297.9 L375.4 1295.8 L376.8 1293.7 L378.2 1291.6 L379.6 1289.5 L381 1287.3 L382.4 1285.2 L383.8 1283.1 L385.2 1281 L386.7 1278.8 L388.1 1276.7 L389.5 1274.6 L390.9 1272.4 L392.3 1270.3 L393.7 1268.1 L395.1 1266 L396.5 1263.8 L397.9 1261.7 L399.3 1259.5 L400.7 1257.4 L402.1 1255.2 L403.5 1253 L404.9 1250.9 L406.3 1248.7 L407.7 1246.6 L409.2 1244.4 L410.6 1242.2 L412 1240.1 L413.4 1237.9 L414.8 1235.7 L416.2 1233.6 L417.6 1231.4 L419 1229.3 L420.4 1227.1 L421.8 1224.9 L423.2 1222.8 L424.6 1220.6 L426 1218.5 L427.4 1216.3 L428.8 1214.2 L430.2 1212 L431.7 1209.9 L433.1 1207.7 L434.5 1205.6 L435.9 1203.4 L437.3 1201.3 L438.7 1199.2 L440.1 1197 L441.5 1194.9 L442.9 1192.8 L444.3 1190.7 L445.7 1188.6 L447.1 1186.5 L448.5 1184.4 L449.9 1182.3 L451.3 1180.2 L452.7 1178.1 L454.2 1176 L455.6 1173.9 L457 1171.8 L458.4 1169.8 L459.8 1167.7 L461.2 1165.7 L462.6 1163.6 L464 1161.6 L465.4 1159.5 L466.8 1157.5 L468.2 1155.5 L469.6 1153.5 L471 1151.5 L472.4 1149.5 L473.8 1147.5 L475.3 1145.5 L476.7 1143.5 L478.1 1141.5 L479.5 1139.6 L480.9 1137.6 L482.3 1135.7 L483.7 1133.7 L485.1 1131.8 L486.5 1129.9 L487.9 1128 L489.3 1126.1 L490.7 1124.2 L492.1 1122.3 L493.5 1120.4 L494.9 1118.6 L496.3 1116.7 L497.8 1114.9 L499.2 1113 L500.6 1111.2 L502 1109.4 L503.4 1107.6 L504.8 1105.8 L506.2 1104 L507.6 1102.2 L509 1100.5 L510.4 1098.7 L511.8 1097 L513.2 1095.2 L514.6 1093.5 L516 1091.8 L517.4 1090.1 L518.8 1088.4 L520.3 1086.7 L521.7 1085 L523.1 1083.4 L524.5 1081.7 L525.9 1080.1 L527.3 1078.5 L528.7 1076.9 L530.1 1075.2 L531.5 1073.7 L532.9 1072.1 L534.3 1070.5 L535.7 1068.9 L537.1 1067.4 L538.5 1065.9 L539.9 1064.3 L541.3 1062.8 L542.8 1061.3 L544.2 1059.8 L545.6 1058.3 L547 1056.9 L548.4 1055.4 L549.8 1054 L551.2 1052.5 L552.6 1051.1 L554 1049.7 L555.4 1048.3 L556.8 1046.9 L558.2 1045.5 L559.6 1044.2 L561 1042.8 L562.4 1041.5 L563.8 1040.1 L565.3 1038.8 L566.7 1037.5 L568.1 1036.2 L569.5 1034.9 L570.9 1033.6 L572.3 1032.4 L573.7 1031.1 L575.1 1029.9 L576.5 1028.6 L577.9 1027.4 L579.3 1026.2 L580.7 1025 L582.1 1023.8 L583.5 1022.6 L584.9 1021.4 L586.4 1020.3 L587.8 1019.1 L589.2 1018 L590.6 1016.9 L592 1015.8 L593.4 1014.7 L594.8 1013.6 L596.2 1012.5 L597.6 1011.4 L599 1010.3 L600.4 1009.3 L601.8 1008.2 L603.2 1007.2 L604.6 1006.2 L606 1005.2 L607.4 1004.2 L608.9 1003.2 L610.3 1002.2 L611.7 1001.2 L613.1 1000.2 L614.5 999.3 L615.9 998.3 L617.3 997.4 L618.7 996.5 L620.1 995.5 L621.5 994.6 L622.9 993.7 L624.3 992.8 L625.7 992 L627.1 991.1 L628.5 990.2 L629.9 989.4 L631.4 988.5 L632.8 987.7 L634.2 986.8 L635.6 986 L637 985.2 L638.4 984.4 L639.8 983.6 L641.2 982.8 L642.6 982 L644 981.3 L645.4 980.5 L646.8 979.7 L648.2 979 L649.6 978.2 L651 977.5 L652.4 976.8 L653.9 976.1 L655.3 975.4 L656.7 974.7 L658.1 974 L659.5 973.3 L660.9 972.6 L662.3 971.9 L663.7 971.3 L665.1 970.6 L666.5 970 L667.9 969.3 L669.3 968.7 L670.7 968 L672.1 967.4 L673.5 966.8 L674.9 966.2 L676.4 965.6 L677.8 965 L679.2 964.4 L680.6 963.8 L682 963.2 L683.4 962.7 L684.8 962.1 L686.2 961.5 L687.6 961 L689 960.4 L690.4 959.9 L691.8 959.4 L693.2 958.8 L694.6 958.3 L696 957.8 L697.5 957.3 L698.9 956.8 L700.3 956.3 L701.7 955.8 L703.1 955.3 L704.5 954.8 L705.9 954.3 L707.3 953.8 L708.7 953.4 L710.1 952.9 L711.5 952.4 L712.9 952 L714.3 951.5 L715.7 951.1 L717.1 950.7 L718.5 950.2 L720 949.8 L721.4 949.4 L722.8 949 L724.2 948.5 L725.6 948.1 L727 947.7 L728.4 947.3 L729.8 946.9 L731.2 946.5 L732.6 946.1 L734 945.8 L735.4 945.4 L736.8 945 L738.2 944.6 L739.6 944.3 L741 943.9 L742.5 943.6 L743.9 943.2 L745.3 942.8 L746.7 942.5 L748.1 942.2 L749.5 941.8 L750.9 941.5 L752.3 941.2 L753.7 940.8 L755.1 940.5 L756.5 940.2 L757.9 939.9 L759.3 939.6 L760.7 939.2 L762.1 938.9 L763.5 938.6 L765 938.3 L766.4 938 L767.8 937.7 L769.2 937.5 L770.6 937.2 L772 936.9 L773.4 936.6 L774.8 936.3 L776.2 936.1 L777.6 935.8 L779 935.5 L780.4 935.3 L781.8 935 L783.2 934.7 L784.6 934.5 L786 934.2 L787.5 934 L788.9 933.7 L790.3 933.5 L791.7 933.3 L793.1 933 L794.5 932.8 L795.9 932.6 L797.3 932.3 L798.7 932.1 L800.1 931.9 L801.5 931.6 L802.9 931.4 L804.3 931.2 L805.7 931 L807.1 930.8 L808.6 930.6 L810 930.4 L811.4 930.2 L812.8 930 L814.2 929.8 L815.6 929.6 L817 929.4 L818.4 929.2 L819.8 929 L821.2 928.8 L822.6 928.6 L824 928.4" stroke="#000" stroke-width="3.3" fill="none" stroke-dasharray="12.8 19.2" stroke-linecap="round"/>
<path d="M153.2 1464 L154.6 1462.8 L156 1461.5 L157.4 1460.2 L158.8 1459 L160.2 1457.7 L161.6 1456.4 L163 1455.1 L164.5 1453.8 L165.9 1452.4 L167.3 1451.1 L168.7 1449.7 L170.1 1448.4 L171.5 1447 L172.9 1445.7 L174.3 1444.3 L175.7 1442.9 L177.1 1441.5 L178.5 1440 L179.9 1438.6 L181.3 1437.2 L182.7 1435.7 L184.1 1434.3 L185.5 1432.8 L187 1431.3 L188.4 1429.9 L189.8 1428.4 L191.2 1426.9 L192.6 1425.3 L194 1423.8 L195.4 1422.3 L196.8 1420.7 L198.2 1419.2 L199.6 1417.6 L201 1416 L202.4 1414.4 L203.8 1412.8 L205.2 1411.2 L206.6 1409.6 L208 1408 L209.5 1406.3 L210.9 1404.7 L212.3 1403 L213.7 1401.4 L215.1 1399.7 L216.5 1398 L217.9 1396.3 L219.3 1394.6 L220.7 1392.9 L222.1 1391.2 L223.5 1389.4 L224.9 1387.7 L226.3 1385.9 L227.7 1384.2 L229.1 1382.4 L230.5 1380.6 L232 1378.8 L233.4 1377 L234.8 1375.2 L236.2 1373.4 L237.6 1371.5 L239 1369.7 L240.4 1367.9 L241.8 1366 L243.2 1364.1 L244.6 1362.3 L246 1360.4 L247.4 1358.5 L248.8 1356.6 L250.2 1354.7 L251.6 1352.8 L253 1350.9 L254.5 1348.9 L255.9 1347 L257.3 1345 L258.7 1343.1 L260.1 1341.1 L261.5 1339.2 L262.9 1337.2 L264.3 1335.2 L265.7 1333.2 L267.1 1331.2 L268.5 1329.2 L269.9 1327.2 L271.3 1325.2 L272.7 1323.1 L274.1 1321.1 L275.6 1319.1 L277 1317 L278.4 1315 L279.8 1312.9 L281.2 1310.9 L282.6 1308.8 L284 1306.7 L285.4 1304.6 L286.8 1302.6 L288.2 1300.5 L289.6 1298.4 L291 1296.3 L292.4 1294.2 L293.8 1292.1 L295.2 1290 L296.6 1287.8 L298.1 1285.7 L299.5 1283.6 L300.9 1281.5 L302.3 1279.3 L303.7 1277.2 L305.1 1275.1 L306.5 1272.9 L307.9 1270.8 L309.3 1268.6 L310.7 1266.5 L312.1 1264.3 L313.5 1262.2 L314.9 1260 L316.3 1257.9 L317.7 1255.7 L319.1 1253.6 L320.6 1251.4 L322 1249.2 L323.4 1247.1 L324.8 1244.9 L326.2 1242.7 L327.6 1240.6 L329 1238.4 L330.4 1236.3 L331.8 1234.1 L333.2 1231.9 L334.6 1229.8 L336 1227.6 L337.4 1225.4 L338.8 1223.3 L340.2 1221.1 L341.6 1219 L343.1 1216.8 L344.5 1214.7 L345.9 1212.5 L347.3 1210.4 L348.7 1208.2 L350.1 1206.1 L351.5 1203.9 L352.9 1201.8 L354.3 1199.7 L355.7 1197.5 L357.1 1195.4 L358.5 1193.3 L359.9 1191.2 L361.3 1189.1 L362.7 1187 L364.1 1184.9 L365.6 1182.8 L367 1180.7 L368.4 1178.6 L369.8 1176.5 L371.2 1174.4 L372.6 1172.3 L374 1170.3 L375.4 1168.2 L376.8 1166.1 L378.2 1164.1 L379.6 1162 L381 1160 L382.4 1158 L383.8 1156 L385.2 1153.9 L386.7 1151.9 L388.1 1149.9 L389.5 1147.9 L390.9 1145.9 L392.3 1144 L393.7 1142 L395.1 1140 L396.5 1138.1 L397.9 1136.1 L399.3 1134.2 L400.7 1132.3 L402.1 1130.3 L403.5 1128.4 L404.9 1126.5 L406.3 1124.6 L407.7 1122.7 L409.2 1120.9 L410.6 1119 L412 1117.1 L413.4 1115.3 L414.8 1113.5 L416.2 1111.6 L417.6 1109.8 L419 1108 L420.4 1106.2 L421.8 1104.4 L423.2 1102.6 L424.6 1100.9 L426 1099.1 L427.4 1097.4 L428.8 1095.6 L430.2 1093.9 L431.7 1092.2 L433.1 1090.5 L434.5 1088.8 L435.9 1087.1 L437.3 1085.4 L438.7 1083.8 L440.1 1082.1 L441.5 1080.5 L442.9 1078.8 L444.3 1077.2 L445.7 1075.6 L447.1 1074 L448.5 1072.4 L449.9 1070.9 L451.3 1069.3 L452.7 1067.8 L454.2 1066.2 L455.6 1064.7 L457 1063.2 L458.4 1061.7 L459.8 1060.2 L461.2 1058.7 L462.6 1057.2 L464 1055.8 L465.4 1054.3 L466.8 1052.9 L468.2 1051.4 L469.6 1050 L471 1048.6 L472.4 1047.2 L473.8 1045.9 L475.3 1044.5 L476.7 1043.1 L478.1 1041.8 L479.5 1040.4 L480.9 1039.1 L482.3 1037.8 L483.7 1036.5 L485.1 1035.2 L486.5 1033.9 L487.9 1032.7 L489.3 1031.4 L490.7 1030.1 L492.1 1028.9 L493.5 1027.7 L494.9 1026.5 L496.3 1025.3 L497.8 1024.1 L499.2 1022.9 L500.6 1021.7 L502 1020.6 L503.4 1019.4 L504.8 1018.3 L506.2 1017.1 L507.6 1016 L509 1014.9 L510.4 1013.8 L511.8 1012.7 L513.2 1011.7 L514.6 1010.6 L516 1009.5 L517.4 1008.5 L518.8 1007.4 L520.3 1006.4 L521.7 1005.4 L523.1 1004.4 L524.5 1003.4 L525.9 1002.4 L527.3 1001.4 L528.7 1000.5 L530.1 999.5 L531.5 998.5 L532.9 997.6 L534.3 996.7 L535.7 995.8 L537.1 994.8 L538.5 993.9 L539.9 993 L541.3 992.2 L542.8 991.3 L544.2 990.4 L545.6 989.6 L547 988.7 L548.4 987.9 L549.8 987 L551.2 986.2 L552.6 985.4 L554 984.6 L555.4 983.8 L556.8 983 L558.2 982.2 L559.6 981.4 L561 980.7 L562.4 979.9 L563.8 979.2 L565.3 978.4 L566.7 977.7 L568.1 977 L569.5 976.2 L570.9 975.5 L572.3 974.8 L573.7 974.1 L575.1 973.4 L576.5 972.8 L577.9 972.1 L579.3 971.4 L580.7 970.8 L582.1 970.1 L583.5 969.5 L584.9 968.8 L586.4 968.2 L587.8 967.6 L589.2 966.9 L590.6 966.3 L592 965.7 L593.4 965.1 L594.8 964.5 L596.2 963.9 L597.6 963.4 L599 962.8 L600.4 962.2 L601.8 961.7 L603.2 961.1 L604.6 960.6 L606 960 L607.4 959.5 L608.9 958.9 L610.3 958.4 L611.7 957.9 L613.1 957.4 L614.5 956.9 L615.9 956.4 L617.3 955.9 L618.7 955.4 L620.1 954.9 L621.5 954.4 L622.9 953.9 L624.3 953.5 L625.7 953 L627.1 952.6 L628.5 952.1 L629.9 951.6 L631.4 951.2 L632.8 950.8 L634.2 950.3 L635.6 949.9 L637 949.5 L638.4 949.1 L639.8 948.6 L641.2 948.2 L642.6 947.8 L644 947.4 L645.4 947 L646.8 946.6 L648.2 946.2 L649.6 945.9 L651 945.5 L652.4 945.1 L653.9 944.7 L655.3 944.4 L656.7 944 L658.1 943.6 L659.5 943.3 L660.9 942.9 L662.3 942.6 L663.7 942.2 L665.1 941.9 L666.5 941.6 L667.9 941.2 L669.3 940.9 L670.7 940.6 L672.1 940.3 L673.5 939.9 L674.9 939.6 L676.4 939.3 L677.8 939 L679.2 938.7 L680.6 938.4 L682 938.1 L683.4 937.8 L684.8 937.5 L686.2 937.2 L687.6 937 L689 936.7 L690.4 936.4 L691.8 936.1 L693.2 935.9 L694.6 935.6 L696 935.3 L697.5 935.1 L698.9 934.8 L700.3 934.6 L701.7 934.3 L703.1 934 L704.5 933.8 L705.9 933.6 L707.3 933.3 L708.7 933.1 L710.1 932.8 L711.5 932.6 L712.9 932.4 L714.3 932.1 L715.7 931.9 L717.1 931.7 L718.5 931.5 L720 931.3 L721.4 931 L722.8 930.8 L724.2 930.6 L725.6 930.4 L727 930.2 L728.4 930 L729.8 929.8 L731.2 929.6 L732.6 929.4 L734 929.2 L735.4 929 L736.8 928.8 L738.2 928.6 L739.6 928.5" stroke="#000" stroke-width="3.3" fill="none" stroke-dasharray="4.8 9.8" stroke-linecap="round"/>
</g>
<rect x="153.2" y="912.4" width="843.8" height="679.1" fill="none" stroke="#000" stroke-width="2.8"/>
<g fill="#f00e0e"><use href="#st" x="293.5" y="1547.1"/><use href="#st" x="335.9" y="1516"/><use href="#st" x="360.7" y="1519.8"/></g>
<path d="M422.8 1330V1150" stroke="#000" stroke-width="3.6"/>
<path d="M422.8 1133 L430.5 1162 L422.8 1155 L415.1 1162Z" fill="#000"/>
<g font-family="Liberation Serif" fill="#000">
<text transform="translate(3.73 39.10) scale(1.0556 1)" font-size="48.86" font-weight="bold">(a)</text>
<text transform="translate(3.74 886.00) scale(1.0520 1)" font-size="48.86" font-weight="bold">(b)</text>
<text transform="translate(65.53 738.12) scale(1.0040 1)" font-size="39.42" font-weight="bold">10</text>
<text transform="translate(104.89 722.90) scale(0.9815 1)" font-size="25.60" font-weight="bold">17</text>
<text transform="translate(65.53 593.72) scale(1.0040 1)" font-size="39.42" font-weight="bold">10</text>
<text transform="translate(104.87 578.26) scale(1.0132 1)" font-size="25.04" font-weight="bold">18</text>
<text transform="translate(65.53 449.33) scale(1.0040 1)" font-size="39.42" font-weight="bold">10</text>
<text transform="translate(104.86 433.87) scale(1.0121 1)" font-size="25.15" font-weight="bold">19</text>
<text transform="translate(65.53 304.94) scale(1.0040 1)" font-size="39.42" font-weight="bold">10</text>
<text transform="translate(105.87 289.48) scale(0.9766 1)" font-size="25.04" font-weight="bold">20</text>
<text transform="translate(65.53 160.55) scale(1.0040 1)" font-size="39.42" font-weight="bold">10</text>
<text transform="translate(105.86 145.33) scale(0.9727 1)" font-size="25.52" font-weight="bold">21</text>
<text transform="translate(144.53 773.76) scale(1.0347 1)" font-size="34.68" font-weight="bold">0</text>
<text transform="translate(275.44 773.76) scale(1.0347 1)" font-size="34.68" font-weight="bold">10</text>
<text transform="translate(416.76 773.76) scale(1.0347 1)" font-size="34.68" font-weight="bold">20</text>
<text transform="translate(557.47 773.76) scale(1.0347 1)" font-size="34.68" font-weight="bold">30</text>
<text transform="translate(698.53 773.76) scale(1.0347 1)" font-size="34.68" font-weight="bold">40</text>
<text transform="translate(838.69 773.76) scale(1.0347 1)" font-size="34.68" font-weight="bold">50</text>
<text transform="translate(979.43 773.76) scale(1.0347 1)" font-size="34.68" font-weight="bold">60</text>
<text transform="translate(473.37 829.60) scale(1.0732 1)" font-size="38.77" font-weight="bold" font-style="normal" >Depth (nm)</text>
<text transform="translate(178.01 93.70) scale(0.9480 1)" font-size="43.83" font-weight="bold" font-style="normal" >Boron</text>
<path d="M527 197.3H606" stroke="#000" stroke-width="2.4"/><rect x="563.8" y="194.1" width="6.4" height="6.4" fill="#000"/>
<text transform="translate(605.91 207.20) scale(1.0878 1)" font-size="31.46" font-weight="normal" font-style="normal" >Heaily doped region</text>
<path d="M633.5 573.9H714.3" stroke="#c6d6f6" stroke-width="3.4" stroke-linecap="round"/>
<use href="#tu" x="674" y="573.9" fill="#2a6fd8"/>
<text transform="translate(721.72 584.30) scale(1.0412 1)" font-size="32.84" font-weight="normal" font-style="normal" >RTP time = 10 s</text>
<path d="M633.5 615.3H714.3" stroke="#c4e6d2" stroke-width="3.4" stroke-linecap="round"/>
<use href="#td" x="674" y="615.3" fill="#2c9c62"/>
<text transform="translate(721.72 625.70) scale(1.0412 1)" font-size="32.84" font-weight="normal" font-style="normal" >RTP time = 20 s</text>
<path d="M633.5 657.8H714.3" stroke="#e6d2f6" stroke-width="3.4" stroke-linecap="round"/>
<use href="#dm" x="674" y="657.8" fill="#b068e0"/>
<text transform="translate(721.72 668.20) scale(1.0412 1)" font-size="32.84" font-weight="normal" font-style="normal" >RTP time = 30 s</text>
<text transform="translate(86.75 1602.07) scale(0.9552 1)" font-size="37.10" font-weight="bold">0.0</text>
<text transform="translate(86.74 1466.25) scale(0.9592 1)" font-size="37.10" font-weight="bold">0.2</text>
<text transform="translate(86.77 1330.43) scale(0.9395 1)" font-size="37.10" font-weight="bold">0.4</text>
<text transform="translate(86.76 1194.61) scale(0.9481 1)" font-size="37.10" font-weight="bold">0.6</text>
<text transform="translate(86.76 1058.79) scale(0.9512 1)" font-size="37.10" font-weight="bold">0.8</text>
<text transform="translate(85.16 922.97) scale(0.9906 1)" font-size="37.10" font-weight="bold">1.0</text>
<text transform="translate(129.38 1646.66) scale(1.0225 1)" font-size="34.38" font-weight="bold">10</text>
<text transform="translate(165.67 1632.28) scale(0.9512 1)" font-size="22.82" font-weight="bold">0</text>
<text transform="translate(270.02 1646.66) scale(1.0225 1)" font-size="34.38" font-weight="bold">10</text>
<text transform="translate(305.13 1632.50) scale(1.0712 1)" font-size="23.33" font-weight="bold">1</text>
<text transform="translate(410.65 1646.66) scale(1.0225 1)" font-size="34.38" font-weight="bold">10</text>
<text transform="translate(446.84 1632.50) scale(0.9530 1)" font-size="23.26" font-weight="bold">2</text>
<text transform="translate(551.28 1646.66) scale(1.0225 1)" font-size="34.38" font-weight="bold">10</text>
<text transform="translate(587.59 1632.28) scale(0.9373 1)" font-size="22.92" font-weight="bold">3</text>
<text transform="translate(691.92 1646.66) scale(1.0225 1)" font-size="34.38" font-weight="bold">10</text>
<text transform="translate(728.76 1632.50) scale(0.8406 1)" font-size="23.40" font-weight="bold">4</text>
<text transform="translate(832.55 1646.66) scale(1.0225 1)" font-size="34.38" font-weight="bold">10</text>
<text transform="translate(868.80 1632.27) scale(0.9378 1)" font-size="23.17" font-weight="bold">5</text>
<text transform="translate(973.18 1646.66) scale(1.0225 1)" font-size="34.38" font-weight="bold">10</text>
<text transform="translate(1009.58 1632.28) scale(0.9195 1)" font-size="22.92" font-weight="bold">6</text>
<text transform="translate(396.10 1714.80) scale(1.0150 1)" font-size="50.29" font-weight="bold" font-style="normal" >Annealing time (s)</text>
<text transform="translate(50.2 384.3) rotate(-90)" font-size="42.5" font-weight="bold" text-anchor="middle" textLength="372" lengthAdjust="spacingAndGlyphs">Concentration (cm<tspan font-size="27" dy="-17.5">-3</tspan><tspan dy="17.5">)</tspan></text>
<text transform="translate(54.5 1260.7) rotate(-90)" font-size="51" font-weight="bold" text-anchor="middle" textLength="199" lengthAdjust="spacingAndGlyphs"><tspan font-style="italic">C</tspan>(0, t)/<tspan font-style="italic">C</tspan><tspan font-size="31" dy="10">h</tspan></text>
<text x="161.7" y="966" font-size="44" font-weight="bold" textLength="373" lengthAdjust="spacing">N<tspan font-size="28" dy="9">2</tspan><tspan dy="-9"> ambient, 950 °C</tspan></text>
<text x="376" y="1065.9" font-size="33" font-weight="bold">10×<tspan font-style="italic">h</tspan></text>
<text x="443.5" y="1231.7" font-size="33" font-weight="bold">5×<tspan font-style="italic">h</tspan></text>
<text transform="translate(488 1443) scale(1.013 1)" font-size="32" font-weight="bold"><tspan font-style="italic">h</tspan> = 2.8×10<tspan font-size="21" dy="-13">-9</tspan><tspan dy="13"> cm/s</tspan></text>
</g></svg></body></html>
